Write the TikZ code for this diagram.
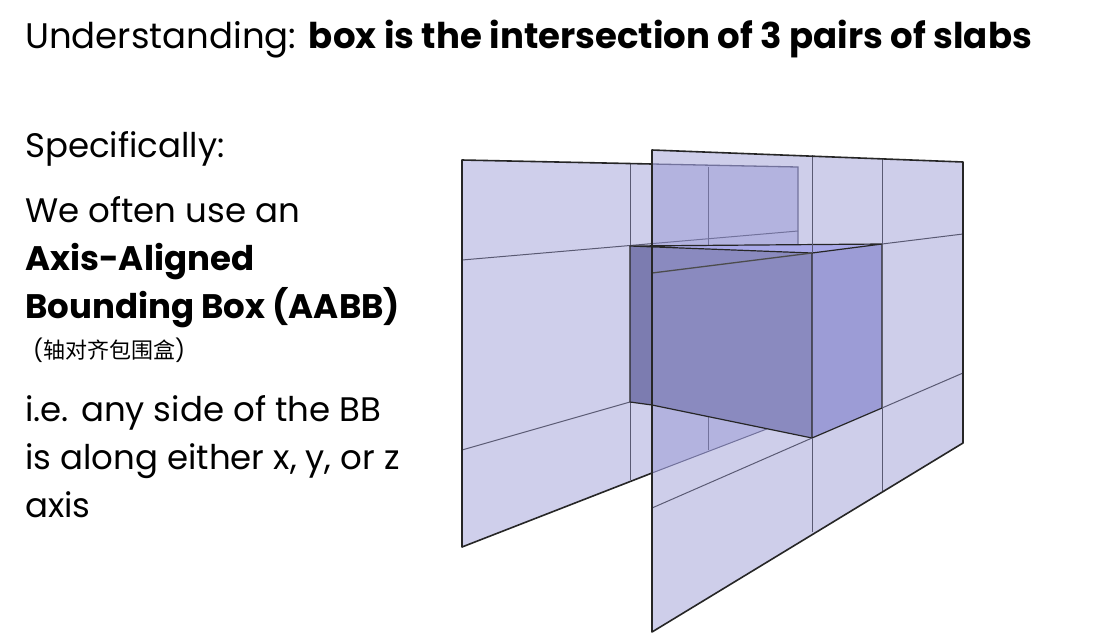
\documentclass[tikz,border=0pt]{standalone}
\usepackage{fontspec}
\setmainfont{Poppins}
\newfontfamily\cjk{Noto Sans CJK SC}
\definecolor{plane}{RGB}{145,145,209}
\definecolor{backp}{RGB}{207,207,235}
\definecolor{boxl}{RGB}{124,124,176}
\definecolor{boxf}{RGB}{138,138,191}
\definecolor{boxr}{RGB}{156,156,214}
\definecolor{boxt}{RGB}{169,169,232}
\definecolor{gridc}{RGB}{90,90,115}
\tikzset{txt/.style={anchor=base west,inner sep=0pt,font=\fontsize{34}{40}\selectfont},
 edge/.style={draw=black!85,line width=1.6pt,line join=round},
 gl/.style={draw=gridc,line width=1pt}}
\begin{document}
\begin{tikzpicture}[x=1pt,y=-1pt]
\useasboundingbox (0,0) rectangle (1111,641);
\fill[white] (0,0) rectangle (1111,641);
\node[txt] (t1) at (25,48) {\fontsize{35.5}{40}\selectfont Understanding: \textbf{box is the intersection of 3 pairs of slabs}};
\node[txt] (t2) at (25,157) {Specifically:};
\node[txt] (t3) at (25,222) {We often use an};
\node[txt] (t4) at (25,270) {\textbf{Axis-Aligned}};
\node[txt] (t5) at (25,318) {\textbf{Bounding Box (AABB)}};
\node[txt] (t6) at (33,358) {\fontsize{22}{26}\selectfont(\cjk 轴对齐包围盒\rmfamily)};
\node[txt] (t7) at (25,421) {i.e. any side of the BB};
\node[txt] (t8) at (25,469) {is along either x, y, or z};
\node[txt] (t9) at (25,517) {axis};
% back plane
\fill[backp] (462,160) -- (798,167) -- (798,417) -- (462,547) -- cycle;
\draw[gl] (630,163) -- (630,480);
\draw[gl] (708,167) -- (708,450);
\draw[gl] (462,260) -- (798,231);
\draw[gl] (462,450) -- (630,402);
\draw[gl] (652,473) -- (798,417);
\draw[edge] (652,164) -- (462,160) -- (462,547) -- (652,473);
\draw[gl,line width=1.3pt] (652,164) -- (798,167) -- (798,244);
% box left strip
\fill[boxl] (630,246) -- (652,247) -- (652,405) -- (630,402) -- cycle;
\draw[edge,line width=1.2pt] (630,246) -- (630,402) -- (652,405);
% front plane
\fill[plane,fill opacity=0.44] (652,150) -- (963,162) -- (963,443) -- (652,632) -- cycle;
% box faces
\fill[boxf] (652,247) -- (812,253) -- (812,438) -- (652,405) -- cycle;
\fill[boxr] (812,253) -- (882,244) -- (882,408) -- (812,438) -- cycle;
\fill[boxt] (630,246) -- (882,244) -- (812,253) -- cycle;
\draw[edge,line width=1.2pt] (630,246) -- (882,244) -- (812,253) -- cycle;
\draw[edge,line width=1.2pt] (812,253) -- (812,438) -- (882,408) -- (882,244);
\draw[edge,line width=1.2pt] (652,405) -- (812,438);
% front plane grid
\draw[gl] (812,155) -- (812,253);
\draw[gl] (812,438) -- (812,532);
\draw[gl] (882,158) -- (882,244);
\draw[gl] (882,408) -- (882,492);
\draw[gl,draw=black!70,line width=1.3pt] (652,273) -- (812,253);
\draw[gl] (882,244) -- (963,234);
\draw[gl] (652,508) -- (812,438);
\draw[gl] (882,408) -- (963,373);
\draw[edge] (652,150) -- (963,162) -- (963,443) -- (652,632) -- cycle;
\end{tikzpicture}
\end{document}
